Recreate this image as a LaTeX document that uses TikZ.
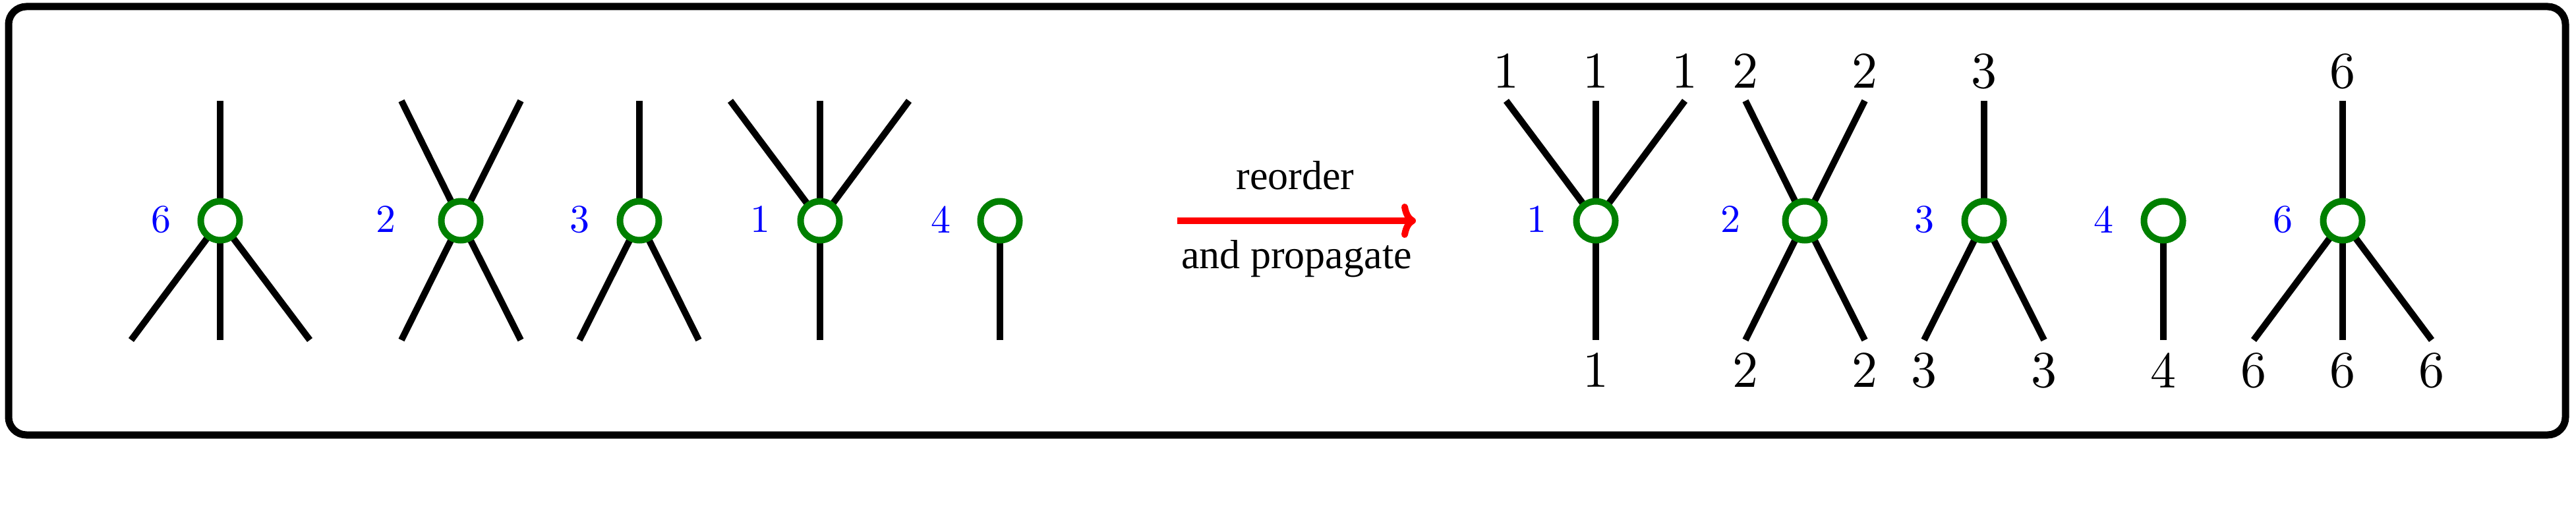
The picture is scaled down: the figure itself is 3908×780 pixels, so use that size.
\documentclass[tikz,border=0pt]{standalone}
\usepackage{fontspec}
\newfontfamily\timesf{Liberation Serif}
\newfontfamily\cmten{lmroman10-regular}[Extension=.otf]
\usetikzlibrary{backgrounds,arrows.meta}
\definecolor{vgreen}{RGB}{0,128,0}
\begin{document}
\begin{tikzpicture}[x=0.5pt,y=-0.5pt,
  vtx/.style={circle,draw=vgreen,line width=5pt,fill=white,minimum size=29.5pt,inner sep=0pt},
  edge/.style={line width=5pt,black},
  idx/.style={text=blue,font=\cmten\fontsize{30}{34}\selectfont,inner sep=0pt},
  lab/.style={font=\cmten\fontsize{39}{42}\selectfont,inner sep=0pt},
  captxt/.style={font=\timesf\fontsize{31}{36}\selectfont,inner sep=0pt,anchor=base}]
\useasboundingbox (0,0) rectangle (3908,780);
\draw[line width=5.5pt,rounded corners=13.5pt] (13,10) rectangle (3892,660);

% ---------- left side vertices ----------
\node[vtx] (L6) at (334,335) {};
\node[vtx] (L2) at (699,335) {};
\node[vtx] (L3) at (970,335) {};
\node[vtx] (L1) at (1244,335) {};
\node[vtx] (L4) at (1517,335) {};
\node[idx] (L6i) at (244,333) {6};
\node[idx] (L2i) at (585,333) {2};
\node[idx] (L3i) at (879,333) {3};
\node[idx] (L1i) at (1153,333) {1};
\node[idx] (L4i) at (1427,333) {4};

% end points
\coordinate (L6t) at (334,153);
\coordinate (L6b1) at (199,516); \coordinate (L6b2) at (334,516); \coordinate (L6b3) at (470,516);
\coordinate (L2t1) at (609,153); \coordinate (L2t2) at (790,153);
\coordinate (L2b1) at (609,516); \coordinate (L2b2) at (790,516);
\coordinate (L3t) at (970,153);
\coordinate (L3b1) at (879,516); \coordinate (L3b2) at (1060,516);
\coordinate (L1t1) at (1108,153); \coordinate (L1t2) at (1244,153); \coordinate (L1t3) at (1379,153);
\coordinate (L1b) at (1244,516);
\coordinate (L4b) at (1517,516);

% ---------- right side vertices ----------
\node[vtx] (R1) at (2421,335) {};
\node[vtx] (R2) at (2738,335) {};
\node[vtx] (R3) at (3010,335) {};
\node[vtx] (R4) at (3282,335) {};
\node[vtx] (R6) at (3554,335) {};
\node[idx] (R1i) at (2331,333) {1};
\node[idx] (R2i) at (2625,333) {2};
\node[idx] (R3i) at (2919,333) {3};
\node[idx] (R4i) at (3191,333) {4};
\node[idx] (R6i) at (3463,333) {6};

\coordinate (R1t1) at (2285,153); \coordinate (R1t2) at (2421,153); \coordinate (R1t3) at (2556,153);
\coordinate (R1b) at (2421,516);
\coordinate (R2t1) at (2648,153); \coordinate (R2t2) at (2829,153);
\coordinate (R2b1) at (2648,516); \coordinate (R2b2) at (2829,516);
\coordinate (R3t) at (3010,153);
\coordinate (R3b1) at (2919,516); \coordinate (R3b2) at (3101,516);
\coordinate (R4b) at (3282,516);
\coordinate (R6t) at (3554,153);
\coordinate (R6b1) at (3419,516); \coordinate (R6b2) at (3554,516); \coordinate (R6b3) at (3689,516);

% black edge labels
\node[lab] (l1) at (2285,108) {1};
\node[lab] (l2) at (2421,108) {1};
\node[lab] (l3) at (2556,108) {1};
\node[lab] (l4) at (2648,108) {2};
\node[lab] (l5) at (2829,108) {2};
\node[lab] (l6) at (3010,108) {3};
\node[lab] (l7) at (3554,108) {6};
\node[lab] (m1) at (2421,562) {1};
\node[lab] (m2) at (2648,562) {2};
\node[lab] (m3) at (2829,562) {2};
\node[lab] (m4) at (2919,562) {3};
\node[lab] (m5) at (3101,562) {3};
\node[lab] (m6) at (3282,562) {4};
\node[lab] (m7) at (3419,562) {6};
\node[lab] (m8) at (3554,562) {6};
\node[lab] (m9) at (3689,562) {6};

% edges
\begin{scope}[on background layer]
\draw[edge] (L6t) -- (L6.center);
\draw[edge] (L6.center) -- (L6b1);
\draw[edge] (L6.center) -- (L6b2);
\draw[edge] (L6.center) -- (L6b3);
\draw[edge] (L2t1) -- (L2.center) -- (L2b2);
\draw[edge] (L2t2) -- (L2.center) -- (L2b1);
\draw[edge] (L3t) -- (L3.center);
\draw[edge] (L3.center) -- (L3b1);
\draw[edge] (L3.center) -- (L3b2);
\draw[edge] (L1t1) -- (L1.center);
\draw[edge] (L1t2) -- (L1.center);
\draw[edge] (L1t3) -- (L1.center);
\draw[edge] (L1.center) -- (L1b);
\draw[edge] (L4.center) -- (L4b);

\draw[edge] (R1t1) -- (R1.center);
\draw[edge] (R1t2) -- (R1.center);
\draw[edge] (R1t3) -- (R1.center);
\draw[edge] (R1.center) -- (R1b);
\draw[edge] (R2t1) -- (R2.center) -- (R2b2);
\draw[edge] (R2t2) -- (R2.center) -- (R2b1);
\draw[edge] (R3t) -- (R3.center);
\draw[edge] (R3.center) -- (R3b1);
\draw[edge] (R3.center) -- (R3b2);
\draw[edge] (R4.center) -- (R4b);
\draw[edge] (R6t) -- (R6.center);
\draw[edge] (R6.center) -- (R6b1);
\draw[edge] (R6.center) -- (R6b2);
\draw[edge] (R6.center) -- (R6b3);
\end{scope}

% arrow and caption
\coordinate (as) at (1786,335);
\coordinate (ae) at (2148,335);
\draw[red,line width=5pt,-{Computer Modern Rightarrow[length=11pt,width=26pt]}] (as) -- (ae);
\node[captxt] (t1) at (1965,288) {reorder};
\node[captxt] (t2) at (1967,408) {and propagate};
\end{tikzpicture}
\end{document}
